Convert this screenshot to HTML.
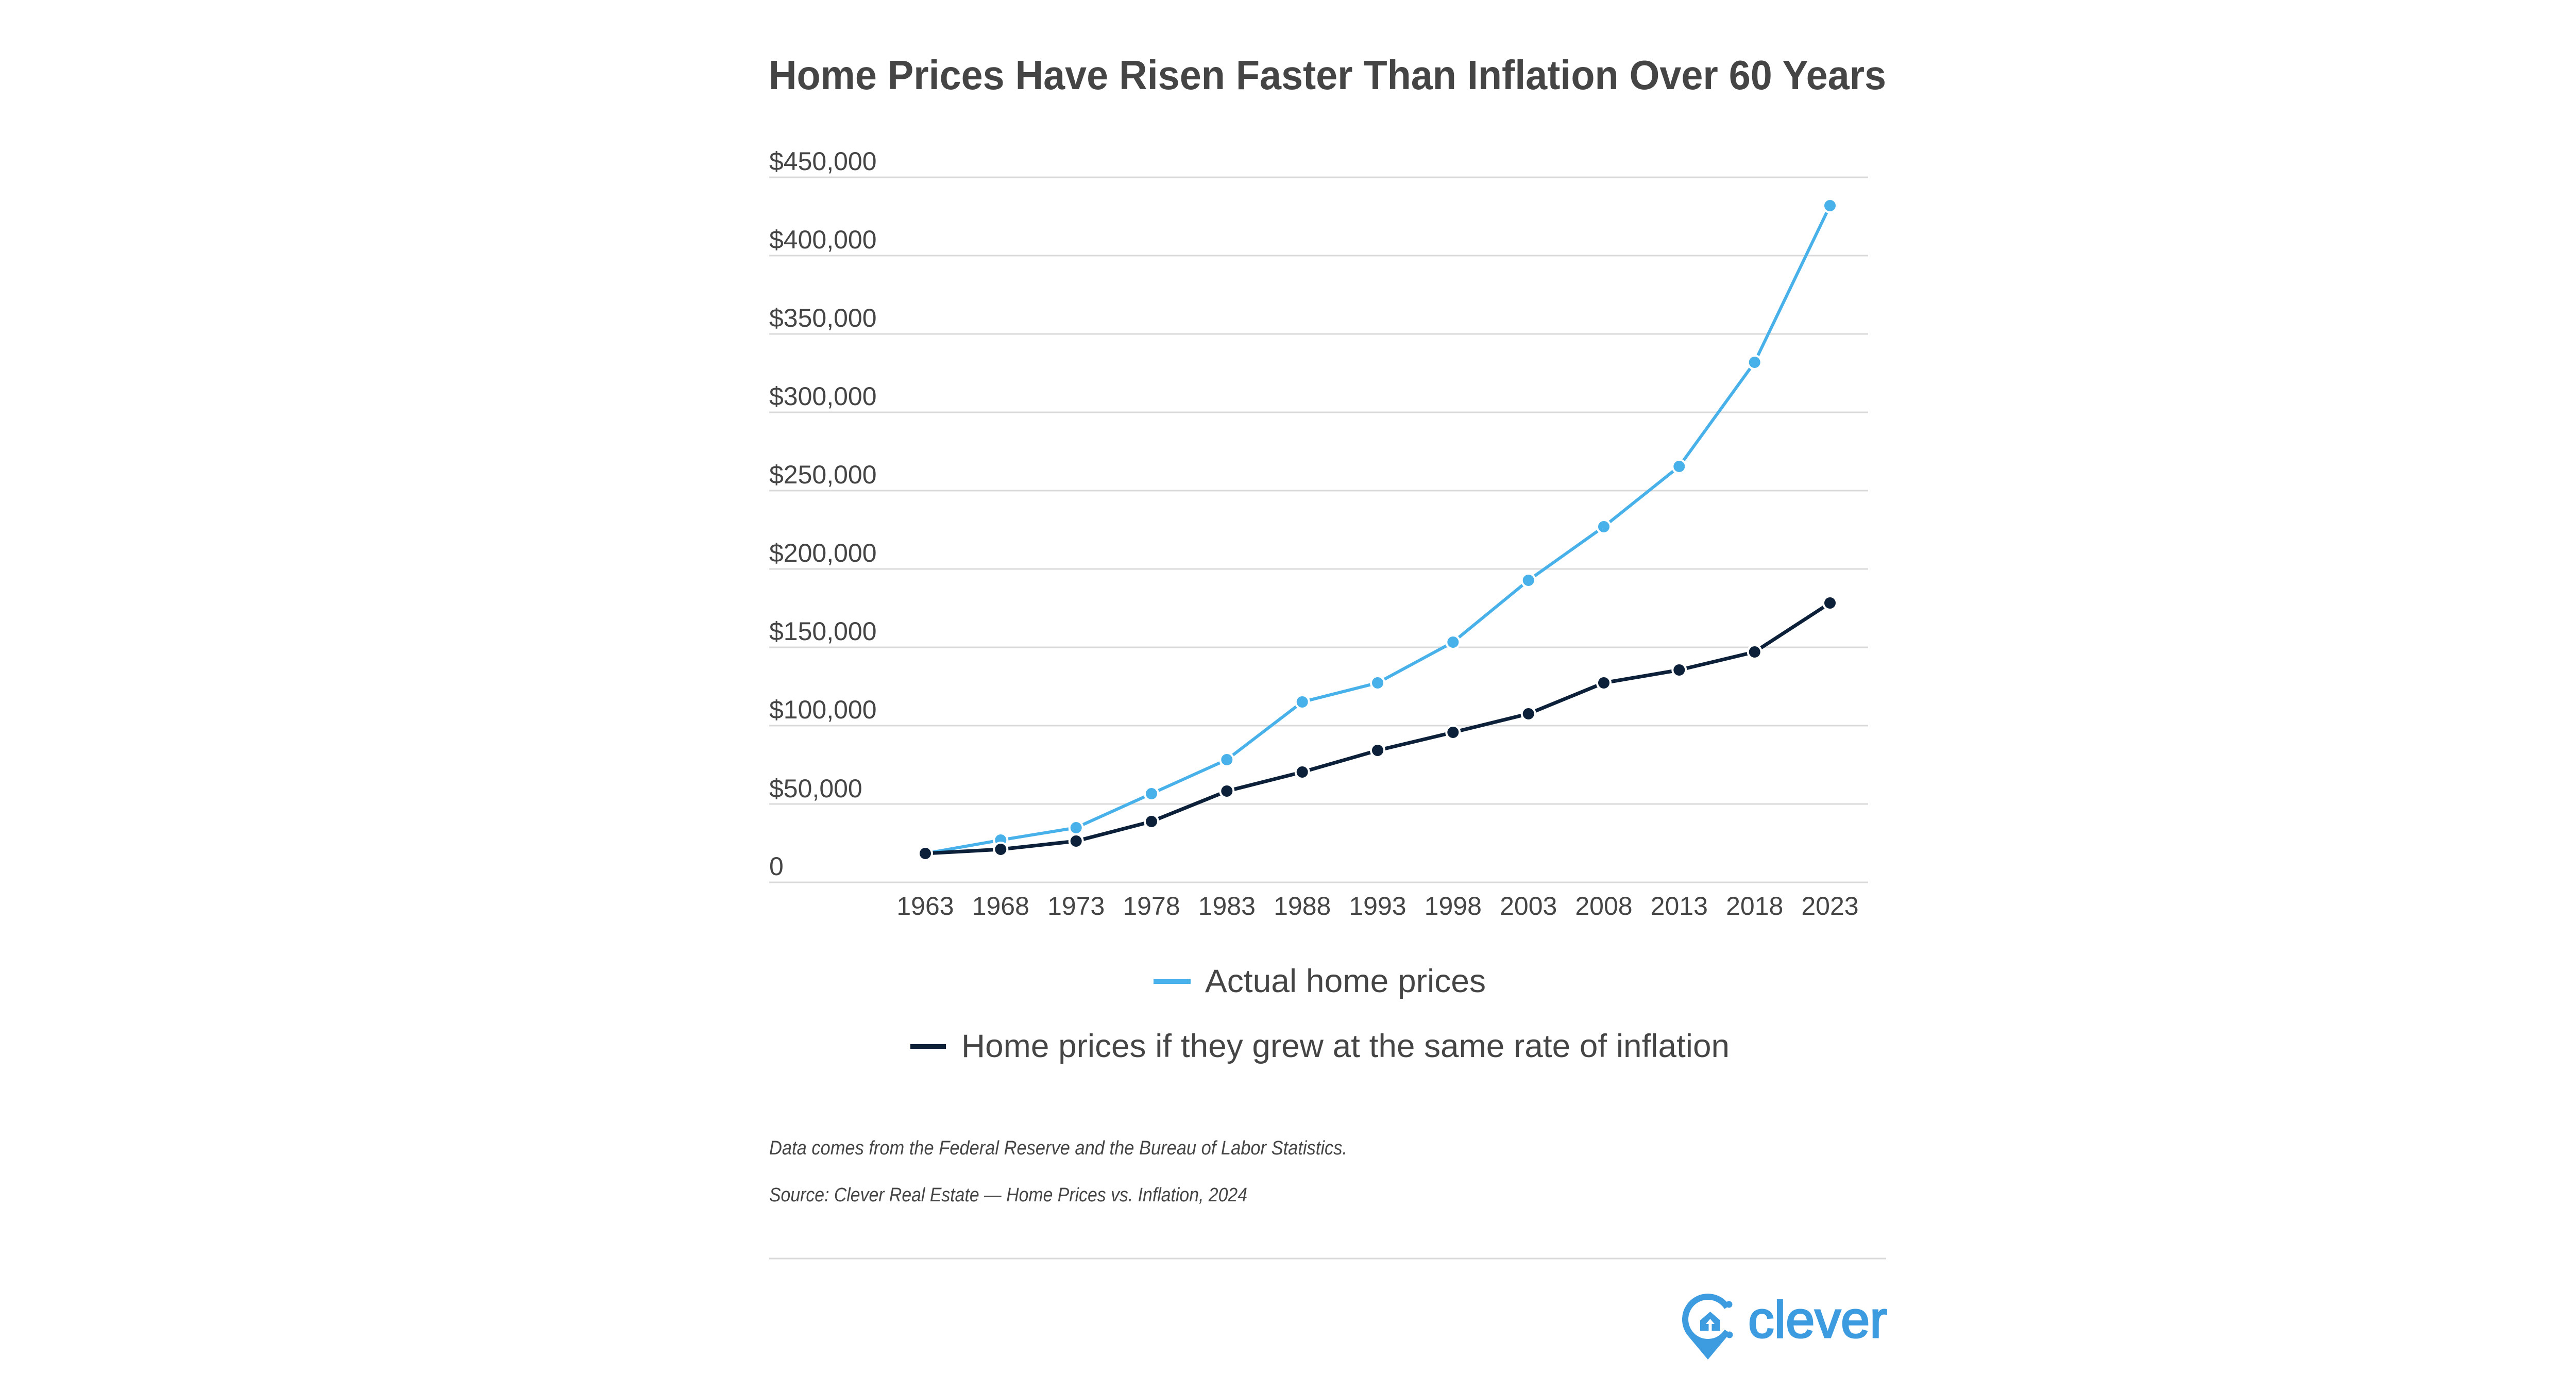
<!DOCTYPE html>
<html>
<head>
<meta charset="utf-8">
<style>
  html, body { margin: 0; padding: 0; background: #ffffff; }
  svg { display: block; }
  text { font-family: "Liberation Sans", "DejaVu Sans", sans-serif; fill: #454545; }
</style>
</head>
<body>
<svg xmlns="http://www.w3.org/2000/svg" width="5157" height="2699" viewBox="0 0 5157 2699">
  <rect x="0" y="0" width="5157" height="2699" fill="#ffffff"/>

  <!-- Title -->
  <text x="1492" y="173" font-size="80" font-weight="bold" textLength="2169" lengthAdjust="spacingAndGlyphs">Home Prices Have Risen Faster Than Inflation Over 60 Years</text>

  <!-- Gridlines -->
  <g stroke="#dadada" stroke-width="3">
    <line x1="1493" y1="344" x2="3626" y2="344"/>
    <line x1="1493" y1="496" x2="3626" y2="496"/>
    <line x1="1493" y1="648" x2="3626" y2="648"/>
    <line x1="1493" y1="800" x2="3626" y2="800"/>
    <line x1="1493" y1="952" x2="3626" y2="952"/>
    <line x1="1493" y1="1104" x2="3626" y2="1104"/>
    <line x1="1493" y1="1256" x2="3626" y2="1256"/>
    <line x1="1493" y1="1408" x2="3626" y2="1408"/>
    <line x1="1493" y1="1560" x2="3626" y2="1560"/>
    <line x1="1493" y1="1712" x2="3626" y2="1712"/>
  </g>

  <!-- Y labels -->
  <g font-size="50">
    <text x="1493" y="330">$450,000</text>
    <text x="1493" y="482">$400,000</text>
    <text x="1493" y="634">$350,000</text>
    <text x="1493" y="786">$300,000</text>
    <text x="1493" y="938">$250,000</text>
    <text x="1493" y="1090">$200,000</text>
    <text x="1493" y="1242">$150,000</text>
    <text x="1493" y="1394">$100,000</text>
    <text x="1493" y="1547">$50,000</text>
    <text x="1493" y="1698">0</text>
  </g>

  <!-- X labels -->
  <g font-size="50" text-anchor="middle">
    <text x="1796" y="1775">1963</text>
    <text x="1942.3" y="1775">1968</text>
    <text x="2088.7" y="1775">1973</text>
    <text x="2235" y="1775">1978</text>
    <text x="2381.3" y="1775">1983</text>
    <text x="2527.7" y="1775">1988</text>
    <text x="2674" y="1775">1993</text>
    <text x="2820.3" y="1775">1998</text>
    <text x="2966.7" y="1775">2003</text>
    <text x="3113" y="1775">2008</text>
    <text x="3259.3" y="1775">2013</text>
    <text x="3405.7" y="1775">2018</text>
    <text x="3552" y="1775">2023</text>
  </g>

  <!-- Blue series: actual home prices -->
  <polyline fill="none" stroke="#48b1e9" stroke-width="6" stroke-linejoin="round"
    points="1796,1656 1942.3,1630 2088.7,1606 2235,1540 2381.3,1474 2527.7,1362 2674,1325 2820.3,1246 2966.7,1126 3113,1022 3259.3,905 3405.7,703 3552,399"/>
  <g fill="#48b1e9" stroke="#ffffff" stroke-width="4">
    <circle cx="1796" cy="1656" r="13"/>
    <circle cx="1942.3" cy="1630" r="13"/>
    <circle cx="2088.7" cy="1606" r="13"/>
    <circle cx="2235" cy="1540" r="13"/>
    <circle cx="2381.3" cy="1474" r="13"/>
    <circle cx="2527.7" cy="1362" r="13"/>
    <circle cx="2674" cy="1325" r="13"/>
    <circle cx="2820.3" cy="1246" r="13"/>
    <circle cx="2966.7" cy="1126" r="13"/>
    <circle cx="3113" cy="1022" r="13"/>
    <circle cx="3259.3" cy="905" r="13"/>
    <circle cx="3405.7" cy="703" r="13"/>
    <circle cx="3552" cy="399" r="13"/>
  </g>

  <!-- Dark series: inflation -->
  <polyline fill="none" stroke="#0c2039" stroke-width="7" stroke-linejoin="round"
    points="1796,1656 1942.3,1648 2088.7,1632 2235,1594 2381.3,1535 2527.7,1498 2674,1456 2820.3,1421 2966.7,1385 3113,1325 3259.3,1300 3405.7,1265 3552,1170"/>
  <g fill="#0c2039" stroke="#ffffff" stroke-width="4">
    <circle cx="1796" cy="1656" r="13"/>
    <circle cx="1942.3" cy="1648" r="13"/>
    <circle cx="2088.7" cy="1632" r="13"/>
    <circle cx="2235" cy="1594" r="13"/>
    <circle cx="2381.3" cy="1535" r="13"/>
    <circle cx="2527.7" cy="1498" r="13"/>
    <circle cx="2674" cy="1456" r="13"/>
    <circle cx="2820.3" cy="1421" r="13"/>
    <circle cx="2966.7" cy="1385" r="13"/>
    <circle cx="3113" cy="1325" r="13"/>
    <circle cx="3259.3" cy="1300" r="13"/>
    <circle cx="3405.7" cy="1265" r="13"/>
    <circle cx="3552" cy="1170" r="13"/>
  </g>

  <!-- Legend -->
  <rect x="2239" y="1900" width="72" height="9" fill="#48b1e9"/>
  <text x="2339" y="1925" font-size="63" textLength="545" lengthAdjust="spacingAndGlyphs">Actual home prices</text>
  <rect x="1767" y="2026" width="69" height="9" fill="#0c2039"/>
  <text x="1866" y="2051" font-size="63" textLength="1491" lengthAdjust="spacingAndGlyphs">Home prices if they grew at the same rate of inflation</text>

  <!-- Footnotes -->
  <text x="1493" y="2240" font-size="38" font-style="italic" textLength="1122" lengthAdjust="spacingAndGlyphs">Data comes from the Federal Reserve and the Bureau of Labor Statistics.</text>
  <text x="1493" y="2331" font-size="38" font-style="italic" textLength="928" lengthAdjust="spacingAndGlyphs">Source: Clever Real Estate — Home Prices vs. Inflation, 2024</text>

  <!-- Divider -->
  <line x1="1493" y1="2442" x2="3661" y2="2442" stroke="#dadada" stroke-width="3"/>

  <!-- Logo icon -->
  <g>
    <path d="M3315,2638 L3276.6,2592.1 A50,50 0 1 1 3353.4,2592.1 Z" fill="#3d9be0"/>
    <circle cx="3315" cy="2560" r="38" fill="#ffffff"/>
    <polygon points="3315,2560 3385,2516 3385,2603" fill="#ffffff"/>
    <circle cx="3356" cy="2531" r="6.5" fill="#3d9be0"/>
    <circle cx="3357" cy="2590" r="6.5" fill="#3d9be0"/>
    <polygon points="3300,2562 3319.5,2545 3339,2562 3339,2582 3300,2582" fill="#3d9be0"/>
    <polygon points="3311,2569 3319.5,2559 3328,2569" fill="#ffffff"/>
    <rect x="3316.5" y="2568" width="6" height="14" fill="#ffffff"/>
  </g>
  <!-- Logo text -->
  <text x="3393" y="2595" font-size="100" textLength="270" lengthAdjust="spacingAndGlyphs" style="fill:#3d9be0;stroke:#3d9be0;stroke-width:3">clever</text>
</svg>
</body>
</html>
